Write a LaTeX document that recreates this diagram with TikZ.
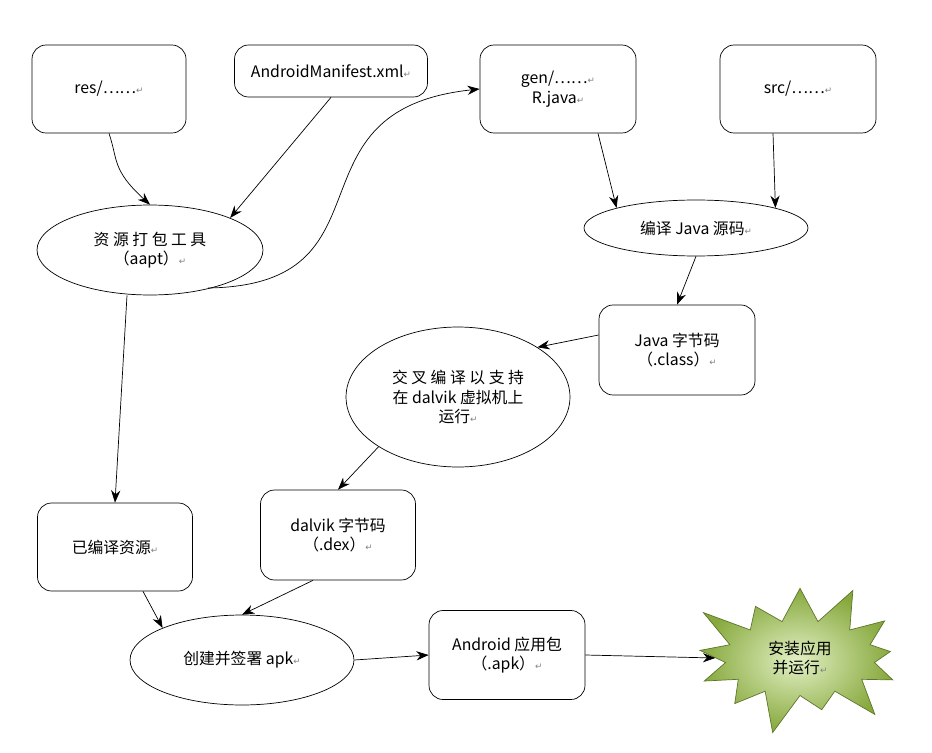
\documentclass[tikz,border=0pt]{standalone}
\usepackage{fontspec}
\setmainfont{Carlito}
\newfontfamily\cjk{Noto Sans CJK SC}
\newfontfamily\sym{DejaVu Sans}
\usetikzlibrary{shapes.geometric,shapes.symbols,arrows.meta}
\newcommand{\parmark}{{\sym\tiny\textcolor{gray}{↵}}}
\definecolor{burstin}{HTML}{E2F0C4}
\definecolor{burstout}{HTML}{86A83C}
\tikzset{
	box/.style={draw, rounded corners=8pt, align=center, font=\cjk\small},
	oval/.style={draw, ellipse, align=center, font=\cjk\small},
	flow/.style={-{Stealth[length=7pt]}, thin},
}
\begin{document}
\begin{tikzpicture}[x=0.02cm, y=-0.02cm]
	\useasboundingbox (0,0) rectangle (932,753);
	% Sources:
	\node[box, minimum width=3.08cm, minimum height=1.76cm](res) at (109,89){res/……\parmark};
	\node[box, minimum width=3.86cm, minimum height=1.04cm](mani) at (331,71){AndroidManifest.xml\parmark};
	\node[box, minimum width=3.12cm, minimum height=1.76cm](gen) at (558,89){gen/……\parmark\\R.java\parmark};
	\node[box, minimum width=3.12cm, minimum height=1.76cm](src) at (798,89){src/……\parmark};
	% Tools and outputs:
	\node[oval, minimum width=4.52cm, minimum height=1.8cm](aapt) at (150,250){资 源 打 包 工 具\\（aapt）\parmark};
	\node[oval, minimum width=4.48cm, minimum height=1.12cm](javac) at (696,228){编译 Java 源码\parmark};
	\node[box, minimum width=3.12cm, minimum height=1.8cm](class) at (677,350){Java 字节码\\（.class）\parmark};
	\node[oval, minimum width=4.48cm, minimum height=2.8cm](dx) at (458,397){交 叉 编 译 以 支 持\\在 dalvik 虚拟机上\\运行\parmark};
	\node[box, minimum width=3.1cm, minimum height=1.76cm](comp) at (115,547){已编译资源\parmark};
	\node[box, minimum width=3.1cm, minimum height=1.8cm](dex) at (338,535){dalvik 字节码\\（.dex）\parmark};
	\node[oval, minimum width=4.48cm, minimum height=1.8cm](apkb) at (242,660){创建并签署 apk\parmark};
	\node[box, minimum width=3.12cm, minimum height=1.78cm](apk) at (507,655){Android 应用包\\（.apk）\parmark};
	\node[starburst, starburst points=13, starburst point height=0.9cm, draw=burstout!70!black,
		inner color=burstin, outer color=burstout, minimum width=4.8cm, minimum height=3.3cm,
		align=center, font=\cjk\small](run) at (800,658){安装应用\\并运行\parmark};
	% Connectors:
	\draw[flow] (res.south) .. controls (118,160) and (112,170) .. (aapt.north);
	\draw[flow] (mani.south) -- (aapt.north east);
	\draw[flow] (208,288) .. controls (400,285) and (280,110) .. (gen.west);
	\draw[flow] (gen.south) ++(40,0) -- (javac.north west);
	\draw[flow] (src.south) ++(-25,0) -- (javac.north east);
	\draw[flow] (javac.south) -- (class.north);
	\draw[flow] (class.west) ++(0,-15) -- (dx.north east);
	\draw[flow] (dx.south west) -- (dex.north);
	\draw[flow] (aapt.south) ++(-23,0) -- (comp.north);
	\draw[flow] (comp.south) ++(28,0) -- (apkb.north west);
	\draw[flow] (dex.south) ++(-25,0) -- (apkb.north);
	\draw[flow] (apkb.east) -- (apk.west);
	\draw[flow] (apk.east) -- (run.west);
\end{tikzpicture}
\end{document}
